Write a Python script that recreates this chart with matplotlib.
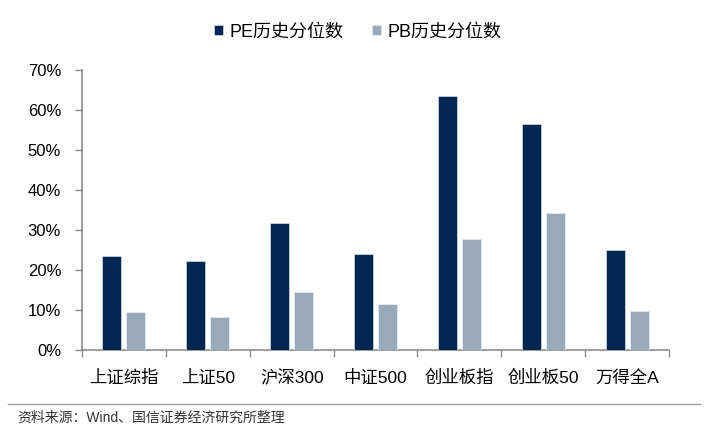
import matplotlib
matplotlib.use("Agg")
import matplotlib.pyplot as plt
import numpy as np
from matplotlib.ticker import FuncFormatter, FixedLocator

plt.rcParams['font.family'] = ['Liberation Sans', 'Noto Sans CJK SC', 'DejaVu Sans']

categories = ["上证综指", "上证50", "沪深300", "中证500", "创业板指", "创业板50", "万得全A"]
pe_pct = [23.5, 22.2, 31.7, 24.0, 63.6, 56.4, 25.0]
pb_pct = [9.4, 8.2, 14.4, 11.4, 27.7, 34.2, 9.8]
series_names = ["PE历史分位数", "PB历史分位数"]
yticks = [0, 10, 20, 30, 40, 50, 60, 70]

pe_color = "#022652"
pb_color = "#98A9BA"
spine_color = "#8c8c8c"

W, H = 708, 429
fig = plt.figure(figsize=(W / 100, H / 100), dpi=100)
ax = fig.add_axes([82 / W, 1 - 350 / H, (669 - 82) / W, (350 - 70) / H])

x = np.arange(len(categories))
bw = 0.226
off = 0.143
ax.bar(x - off, pe_pct, width=bw, color=pe_color, edgecolor="#c8d0da", linewidth=0.6, label=series_names[0], zorder=3)
ax.bar(x + off, pb_pct, width=bw, color=pb_color, edgecolor="#e6eaef", linewidth=0.6, label=series_names[1], zorder=3)

ax.set_xlim(-0.5, len(categories) - 0.5)
ax.set_ylim(0, 70)
ax.set_yticks(yticks)
ax.yaxis.set_major_formatter(FuncFormatter(lambda v, p: f"{int(v)}%"))
ax.set_xticks(x)
ax.set_xticklabels(categories)
ax.xaxis.set_minor_locator(FixedLocator(np.arange(-0.5, len(categories), 1.0)))
ax.tick_params(axis='x', which='major', length=0, pad=14, labelsize=12.5, colors='black')
ax.tick_params(axis='x', which='minor', length=5, width=1, color=spine_color, direction='out')
ax.tick_params(axis='y', length=5, width=1, color=spine_color, direction='out', pad=10, labelsize=12)

for s in ['top', 'right']:
    ax.spines[s].set_visible(False)
for s in ['left', 'bottom']:
    ax.spines[s].set_color(spine_color)
    ax.spines[s].set_linewidth(1.2)

leg = fig.legend(loc='center', bbox_to_anchor=(358 / W, 1 - 32 / H), ncol=2, frameon=False,
                 fontsize=13, handlelength=0.5, handleheight=0.5, handletextpad=0.35, columnspacing=1.6)

# footer line and source
fig.add_artist(plt.Line2D([8 / W, 700 / W], [1 - 404 / H, 1 - 404 / H], color="#a0a0a0", linewidth=1))
fig.text(17 / W, 1 - 418 / H, "资料来源：Wind、国信证券经济研究所整理", fontsize=10, color="#333333", va='center', ha='left')

fig.savefig("out.png", dpi=100, facecolor="white")
